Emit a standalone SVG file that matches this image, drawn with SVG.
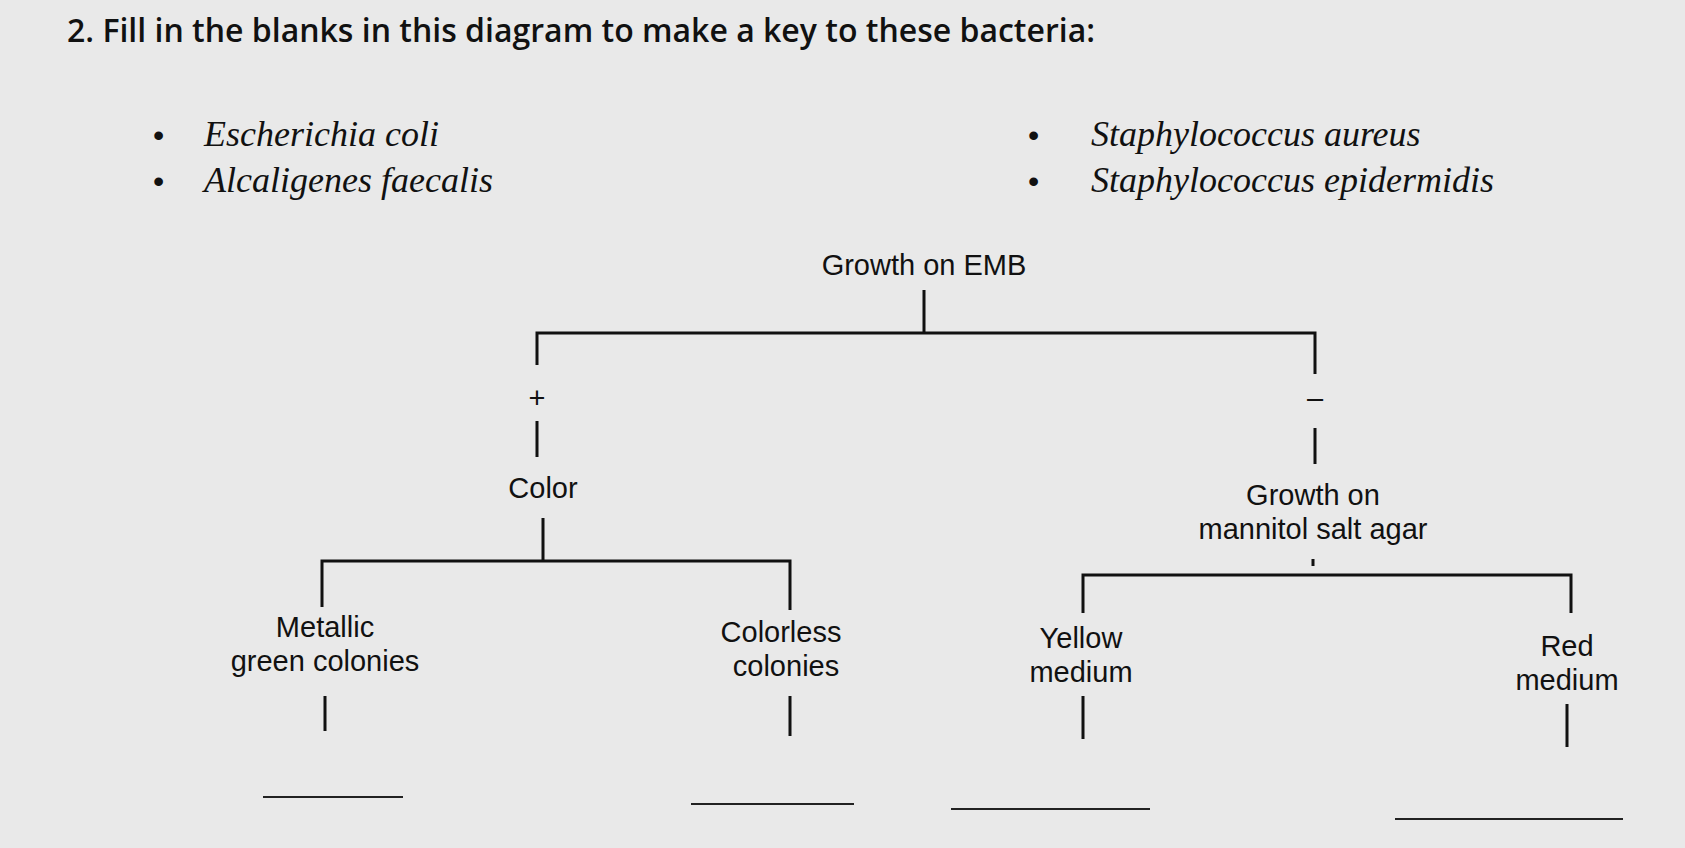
<svg xmlns="http://www.w3.org/2000/svg" width="1685" height="848" viewBox="0 0 1685 848">
<style>
.t{font-family:"Liberation Sans",Arial,sans-serif;font-size:29px;fill:#111;text-anchor:middle}
.sp{font-family:"Liberation Serif","Times New Roman",serif;font-style:italic;font-size:36px;fill:#111}
.b{font-family:"Liberation Sans",sans-serif;font-size:32px;fill:#111}
.ln{stroke:#111;stroke-width:3;fill:none}
.bl{stroke:#222;stroke-width:2;fill:none}
</style>
<rect width="1685" height="848" fill="#e9e9e9"/>
<text x="67" y="42" font-family="Open Sans,sans-serif" font-size="32" font-weight="600" fill="#111">2.  Fill in the blanks in this diagram to make a key to these bacteria:</text>
<g id="species">
<text class="b" x="153" y="146">•</text><text class="sp" x="204" y="146">Escherichia coli</text>
<text class="b" x="153" y="192">•</text><text class="sp" x="204" y="192">Alcaligenes faecalis</text>
<text class="b" x="1028" y="146">•</text><text class="sp" x="1091" y="146" font-size="38">Staphylococcus aureus</text>
<text class="b" x="1028" y="192">•</text><text class="sp" x="1091" y="192" font-size="38">Staphylococcus epidermidis</text>
</g>
<g id="n-emb"><text class="t" x="924" y="275">Growth on EMB</text></g>
<g id="n-plus"><text class="t" x="537" y="408" font-size="36">+</text></g>
<g id="n-minus"><text class="t" x="1315" y="408" font-size="36">–</text></g>
<g id="n-color"><text class="t" x="543" y="498">Color</text></g>
<g id="n-msa"><text class="t" x="1313" y="505">Growth on</text><text class="t" x="1313" y="539">mannitol salt agar</text></g>
<g id="n-metallic"><text class="t" x="325" y="637">Metallic</text><text class="t" x="325" y="671">green colonies</text></g>
<g id="n-colorless"><text class="t" x="781" y="642">Colorless</text><text class="t" x="786" y="676">colonies</text></g>
<g id="n-yellow"><text class="t" x="1081" y="648">Yellow</text><text class="t" x="1081" y="682">medium</text></g>
<g id="n-red"><text class="t" x="1567" y="656">Red</text><text class="t" x="1567" y="690">medium</text></g>
<g id="connectors">
<path class="ln" d="M924 290V333M537 365V333H1315V374M537 421V457M543 518V561M322 607V561H790V610M1315 428V464M1313 559V566M1083 613V575H1571V613M325 696V731M790 696V736M1083 696V739M1567 704V747"/>
<path class="bl" d="M263 797H403M691 804H854M951 809H1150M1395 819H1623"/>
</g>
</svg>
